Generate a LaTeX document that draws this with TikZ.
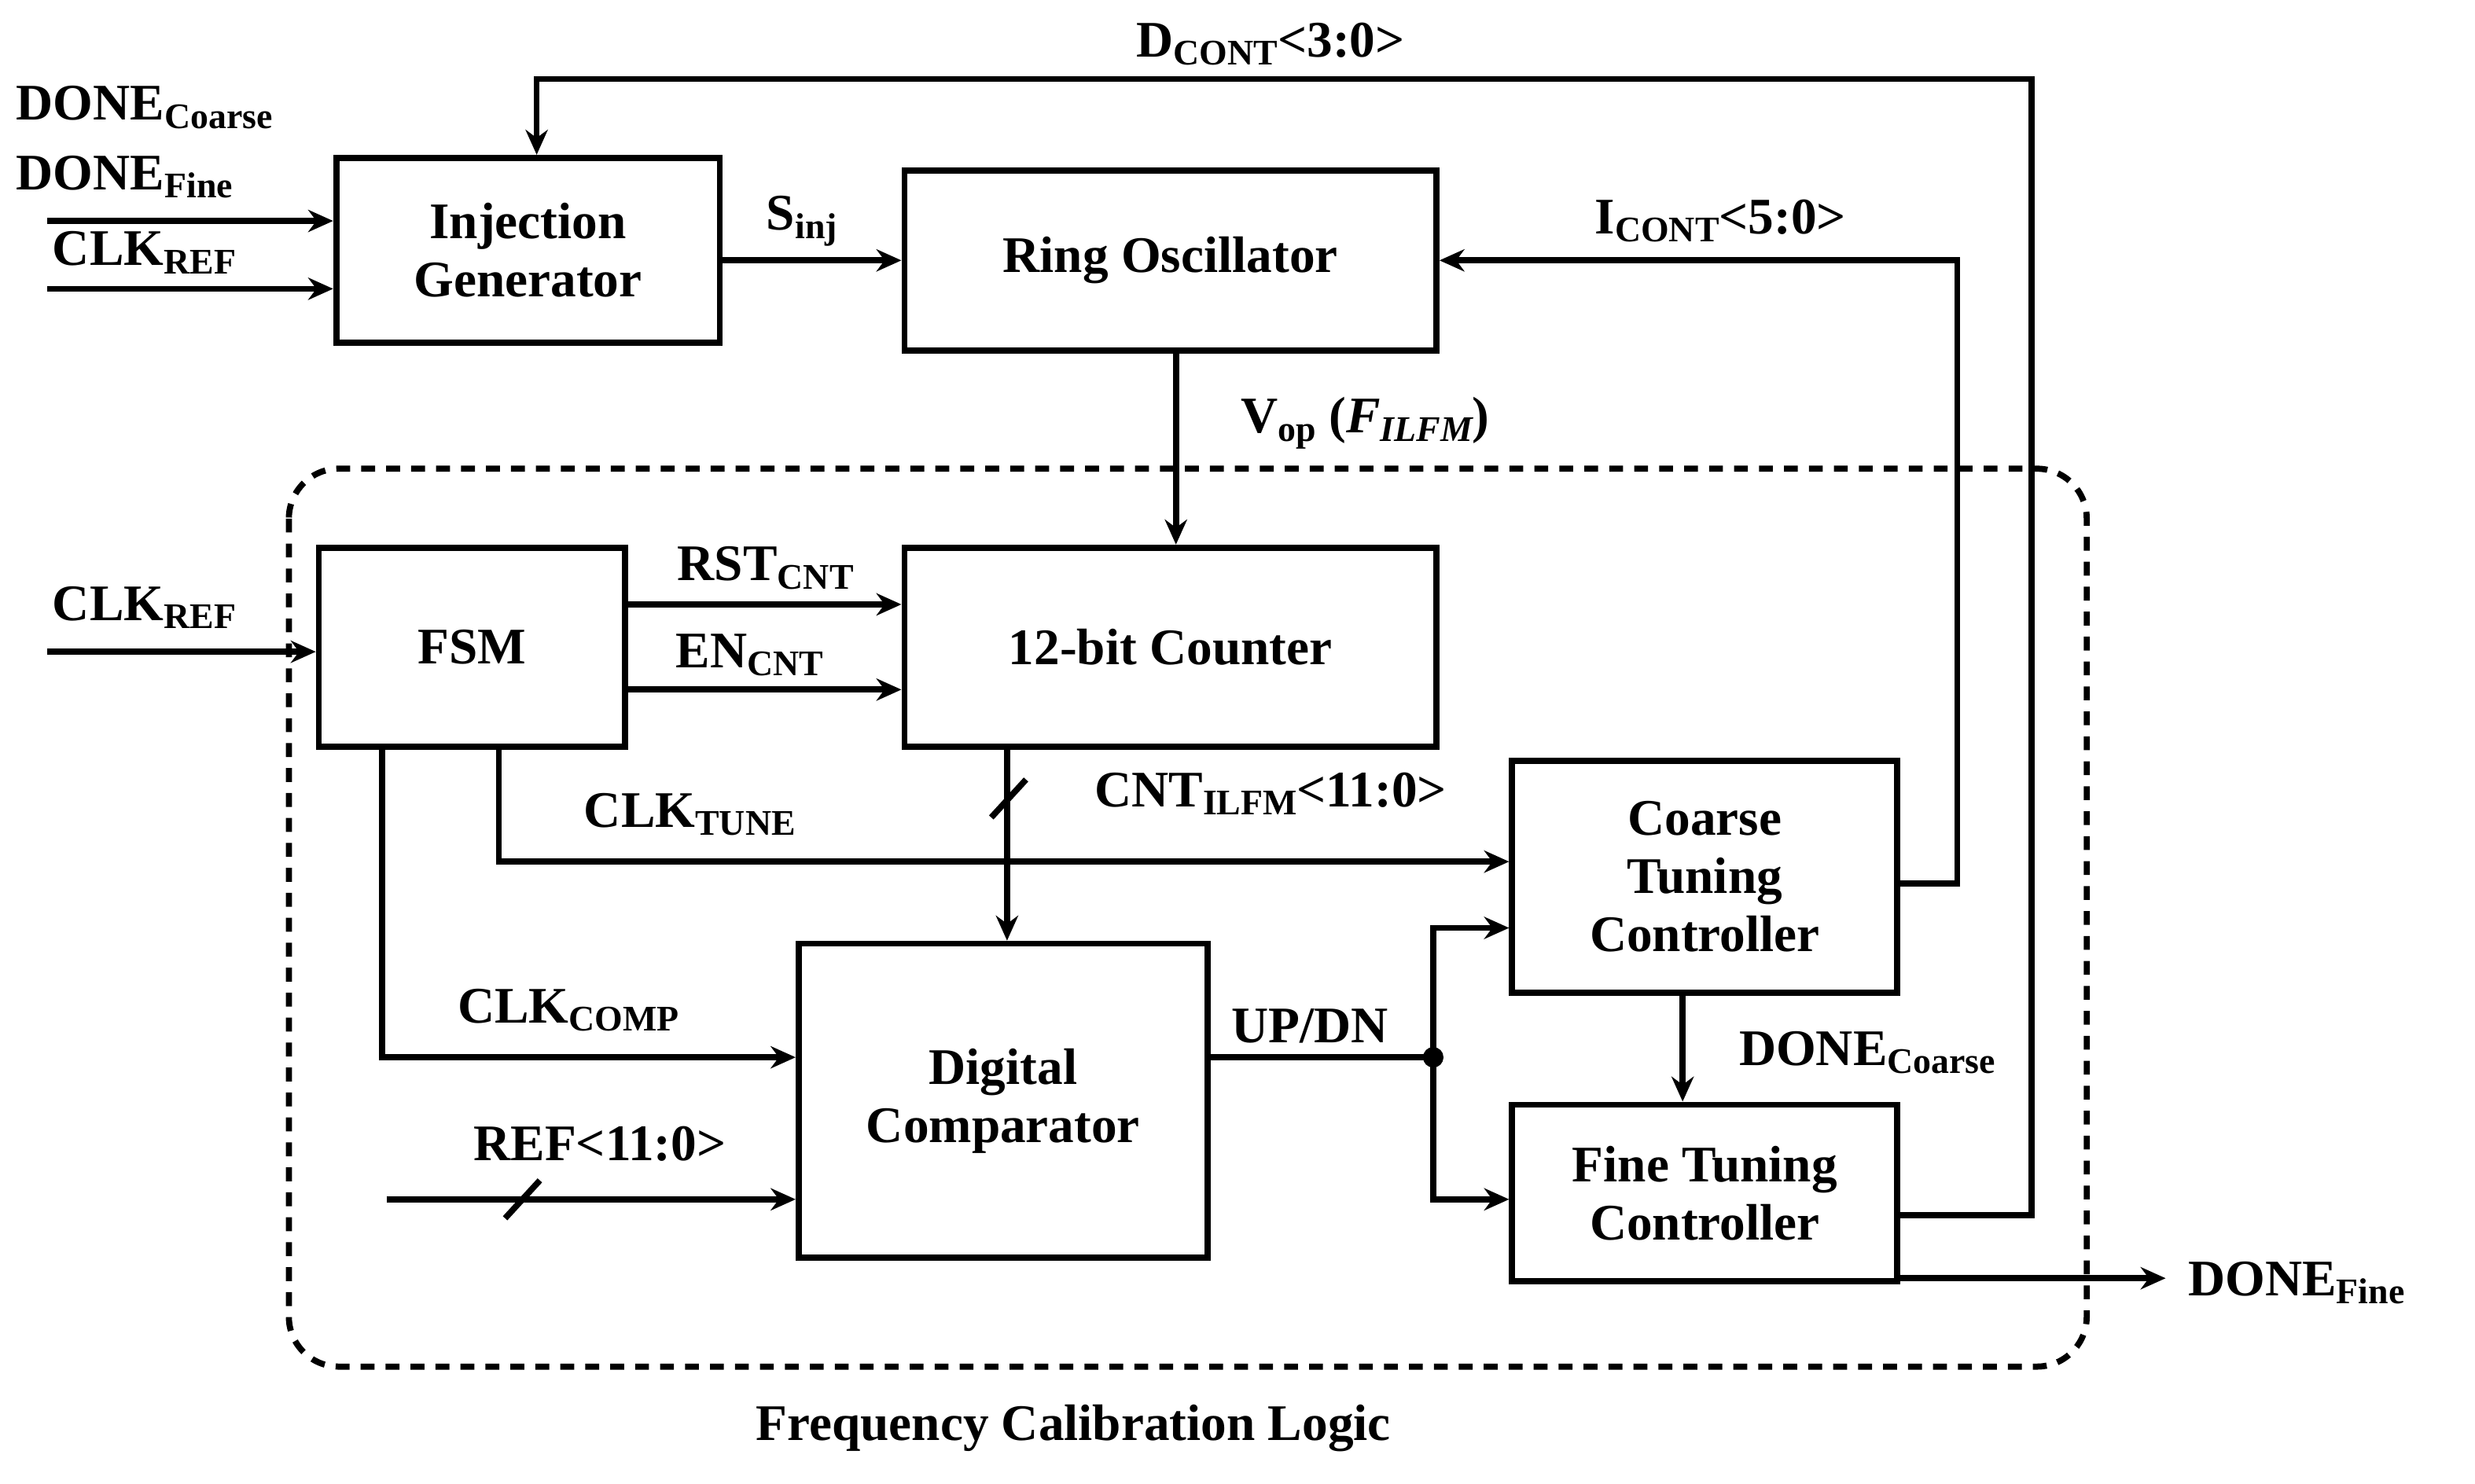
\documentclass[tikz,border=0pt]{standalone}
\usepackage{fontspec}
\setmainfont{Liberation Serif}
\usetikzlibrary{arrows.meta}
\newcommand{\lowsb}[1]{\raisebox{-0.35ex}{\fontsize{13}{13}\selectfont #1}}
\begin{document}
\begin{tikzpicture}[x=0.02cm,y=-0.02cm,
  every node/.style={font=\fontsize{18.5}{21}\selectfont\bfseries},
  box/.style={draw,line width=2.2pt,align=center,inner sep=0},
  w/.style={line width=2.2pt},
  a/.style={w,-{Stealth[length=9pt,width=8pt]}},
  lbl/.style={inner sep=0}]
\useasboundingbox (0,0) rectangle (1568,940);
\draw[line width=2.2pt,dash pattern=on 5pt off 4pt,rounded corners=18pt] (183,297) rectangle (1322,866);
\node[box,minimum width=243*0.02cm,minimum height=117*0.02cm] (inj) at (334.5,158.5) {Injection\\Generator};
\node[box,minimum width=337*0.02cm,minimum height=114*0.02cm] (ro) at (741.5,165) {Ring Oscillator};
\node[box,minimum width=194*0.02cm,minimum height=126*0.02cm] (fsm) at (299,410) {FSM};
\node[box,minimum width=337*0.02cm,minimum height=126*0.02cm] (cnt) at (741.5,410) {12-bit Counter};
\node[box,minimum width=244*0.02cm,minimum height=147*0.02cm] (ctc) at (1080,555.5) {Coarse\\Tuning\\Controller};
\node[box,minimum width=259*0.02cm,minimum height=199*0.02cm] (dc) at (635.5,697.5) {Digital\\Comparator};
\node[box,minimum width=244*0.02cm,minimum height=112*0.02cm] (ftc) at (1080,756) {Fine Tuning\\Controller};
% inputs
\coordinate (i1) at (30,140); \coordinate (i2) at (30,183); \coordinate (i3) at (30,413);
\draw[a] (i1) -- (i1 -| inj.west);
\draw[a] (i2) -- (i2 -| inj.west);
\draw[a] (i3) -- (i3 -| fsm.west);
\node[lbl,anchor=west] at (10,68) {DONE\lowsb{Coarse}};
\node[lbl,anchor=west] at (10,112) {DONE\lowsb{Fine}};
\node[lbl,anchor=west] at (33,160) {CLK\lowsb{REF}};
\node[lbl,anchor=west] at (33,385) {CLK\lowsb{REF}};
% S_inj
\draw[a] (inj.east |- 0,165) -- (ro.west |- 0,165);
\node[lbl] at (508,140) {S\lowsb{inj}};
% D_CONT
\draw[a] (ftc.east |- 0,770) -- (1287,770) -- (1287,50) -- (340,50) -- (inj.north -| 340,0);
\node[lbl] at (805,28) {D\lowsb{CONT}<3:0>};
% I_CONT
\draw[a] (ctc.east |- 0,560) -- (1240,560) -- (1240,165) -- (ro.east |- 0,165);
\node[lbl] at (1090,140) {I\lowsb{CONT}<5:0>};
% V_op
\draw[a] (ro.south -| 745,0) -- (cnt.north -| 745,0);
\node[lbl] at (865,268) {V\lowsb{op} (\textit{F\lowsb{ILFM}})};
% RST/EN
\draw[a] (fsm.east |- 0,383) -- (cnt.west |- 0,383);
\draw[a] (fsm.east |- 0,437) -- (cnt.west |- 0,437);
\node[lbl] at (485,360) {RST\lowsb{CNT}};
\node[lbl] at (475,415) {EN\lowsb{CNT}};
% CLK_TUNE
\draw[a] (fsm.south -| 316,0) -- (316,546) -- (ctc.west |- 0,546);
\node[lbl] at (437,516) {CLK\lowsb{TUNE}};
% CLK_COMP
\draw[a] (fsm.south -| 242,0) -- (242,670) -- (dc.west |- 0,670);
\node[lbl] at (360,640) {CLK\lowsb{COMP}};
% CNT
\draw[a] (cnt.south -| 638,0) -- (dc.north -| 638,0);
\draw[w] (628,518) -- (650,494);
\node[lbl] at (805,503) {CNT\lowsb{ILFM}<11:0>};
% REF
\coordinate (r0) at (245,760);
\draw[a] (r0) -- (r0 -| dc.west);
\draw[w] (320,772) -- (342,748);
\node[lbl] at (380,725) {REF<11:0>};
% UP/DN
\coordinate (j) at (908,670);
\draw[w] (dc.east |- j) -- (j);
\fill (j) circle (6.5);
\draw[a] (j) -- (908,588) -- (ctc.west |- 0,588);
\draw[a] (j) -- (908,760) -- (ftc.west |- 0,760);
\node[lbl] at (830,650) {UP/DN};
% DONE_Coarse
\draw[a] (ctc.south -| 1066,0) -- (ftc.north -| 1066,0);
\node[lbl] at (1183,667) {DONE\lowsb{Coarse}};
% DONE_Fine out
\coordinate (o) at (1372,810);
\draw[a] (ftc.east |- o) -- (o);
\node[lbl,anchor=west] at (1386,813) {DONE\lowsb{Fine}};
\node[lbl] at (680,905) {Frequency Calibration Logic};
\end{tikzpicture}
\end{document}
